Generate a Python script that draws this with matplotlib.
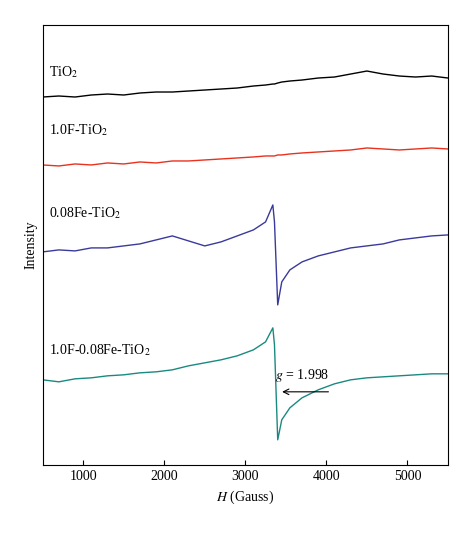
import matplotlib.pyplot as plt
import numpy as np

plt.rcParams['font.family'] = ['Liberation Serif', 'DejaVu Serif']
plt.rcParams['mathtext.fontset'] = 'stix'

field = [500, 700, 900, 1100, 1300, 1500, 1700, 1900, 2100, 2300, 2500, 2700, 2900, 3100, 3250, 3340, 3360, 3400, 3450, 3550, 3700, 3900, 4100, 4300, 4500, 4700, 4900, 5100, 5300, 5500]
tio2 = [97, 96, 97, 95, 94, 95, 93, 92, 92, 91, 90, 89, 88, 86, 85, 84, 84, 83, 82, 81, 80, 78, 77, 74, 71, 74, 76, 77, 76, 78]
f_tio2 = [165, 166, 164, 165, 163, 164, 162, 163, 161, 161, 160, 159, 158, 157, 156, 156, 156, 155, 155, 154, 153, 152, 151, 150, 148, 149, 150, 149, 148, 149]
fe_tio2 = [252, 250, 251, 248, 248, 246, 244, 240, 236, 241, 246, 242, 236, 230, 222, 205, 222, 305, 282, 270, 262, 256, 252, 248, 246, 244, 240, 238, 236, 235]
ffe_tio2 = [380, 382, 379, 378, 376, 375, 373, 372, 370, 366, 363, 360, 356, 350, 342, 328, 345, 440, 420, 408, 398, 390, 384, 380, 378, 377, 376, 375, 374, 374]

labels = ['TiO$_2$', '1.0F-TiO$_2$', '0.08Fe-TiO$_2$', '1.0F-0.08Fe-TiO$_2$']
colors = ['#000000', '#e8321e', '#3a3a9c', '#1a8a80']
label_y = [72, 130, 213, 350]

fig = plt.figure(figsize=(4.74, 5.33), dpi=100)
ax = fig.add_axes([0.09, 0.128, 0.855, 0.825])
for s, c in zip([tio2, f_tio2, fe_tio2, ffe_tio2], colors):
    ax.plot(field, [-v for v in s], color=c, lw=1.0)
for lab, ly in zip(labels, label_y):
    ax.text(580, -ly, lab, fontsize=10, va='center')
ax.annotate('', xy=(3420, -392), xytext=(4060, -392),
            arrowprops=dict(arrowstyle='->', color='black', lw=0.8))
ax.text(3700, -376, '$g$ = 1.998', fontsize=10, va='center', ha='center')
ax.set_xlim(500, 5500)
ax.set_ylim(-465, -25)
ax.set_xticks([1000, 2000, 3000, 4000, 5000])
ax.set_yticks([])
ax.tick_params(labelsize=10, direction='in')
ax.set_xlabel('$H$ (Gauss)', fontsize=10)
ax.set_ylabel('Intensity', fontsize=10)
fig.savefig('out.png')
